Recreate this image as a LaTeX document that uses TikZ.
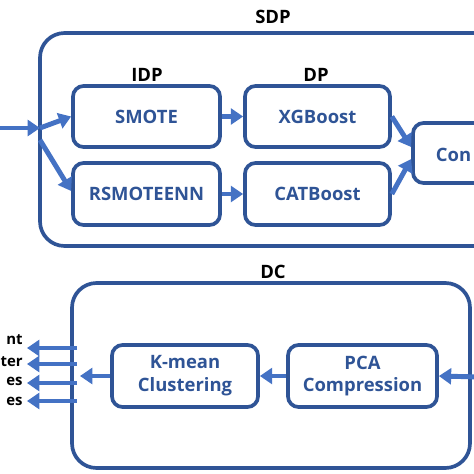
\documentclass[tikz,border=0pt]{standalone}
\usepackage{fontspec}
\setmainfont{Open Sans}
\usetikzlibrary{arrows.meta,calc}
\definecolor{boxc}{RGB}{47,84,150}
\definecolor{arrc}{RGB}{68,114,196}
\tikzset{
  pbox/.style={draw=boxc, line width=2.1pt, rounded corners=6pt, text=boxc,
    font=\fontsize{10.5}{13}\selectfont\bfseries, align=center, inner sep=0pt},
  bigbox/.style={draw=boxc, line width=2.1pt, rounded corners=14pt, inner sep=0pt},
  ttl/.style={font=\fontsize{10.5}{13}\selectfont\bfseries, text=black, inner sep=0pt},
  outl/.style={font=\fontsize{8.5}{12}\selectfont\bfseries, text=black, inner sep=0pt, anchor=east},
  arr/.style={draw=arrc, line width=2.8pt, -{Triangle[width=9pt,length=7pt]}},
}
\begin{document}
\begin{tikzpicture}[x=0.02cm,y=-0.02cm]
\useasboundingbox (0,0) rectangle (474,474);
\clip (0,0) rectangle (474,474);
% SDP
\node[bigbox, minimum width=480*0.02cm, minimum height=213*0.02cm] (sdp) at (280,139.5) {};
\node[ttl] (sdpt) at (273,17) {SDP};
\node[ttl] (idpt) at (147,75) {IDP};
\node[ttl] (dpt) at (316,75) {DP};
\node[pbox, minimum width=147*0.02cm, minimum height=61*0.02cm] (smote) at (146.5,116.5) {SMOTE};
\node[pbox, minimum width=147*0.02cm, minimum height=62*0.02cm] (rsm) at (146.5,194) {RSMOTEENN};
\node[pbox, minimum width=145*0.02cm, minimum height=61*0.02cm] (xgb) at (317.5,116.5) {XGBoost};
\node[pbox, minimum width=145*0.02cm, minimum height=62*0.02cm] (cat) at (317.5,194) {CATBoost};
\node[pbox, minimum width=107*0.02cm, minimum height=60*0.02cm] (con) at (466.5,153) {};
\node[pbox, draw=none, anchor=east] (conl) at (473,155) {Con};
\coordinate (inS) at (-5,128);
\coordinate (j1) at (40,128);
\coordinate (j2) at (40,140);
\draw[arr] (inS) -- (j1);
\draw[arr] (j1) -- (smote.west);
\draw[arr] (j2) -- ($(rsm.west)+(0,-3)$);
\draw[arr] (smote.east) -- (xgb.west);
\draw[arr] (rsm.east) -- (cat.west);
\draw[arr] (xgb.east) -- ($(con.west)+(0,-6)$);
\draw[arr] (cat.east) -- ($(con.west)+(0,6)$);
% DC
\node[bigbox, minimum width=398*0.02cm, minimum height=185*0.02cm] (dc) at (271,375.5) {};
\node[ttl] (dct) at (273,272) {DC};
\node[pbox, minimum width=146*0.02cm, minimum height=62*0.02cm] (km) at (185,376) {K-mean\\Clustering};
\node[pbox, minimum width=149*0.02cm, minimum height=62*0.02cm] (pca) at (362.5,376) {PCA\\Compression};
\coordinate (inD) at (480,377);
\coordinate (kmo) at (80,376);
\draw[arr] (inD) -- (pca.east);
\draw[arr] (pca.west) -- (km.east);
\draw[arr] (km.west) -- (kmo);
\coordinate (o1s) at (77,348); \coordinate (o1e) at (27,348);
\coordinate (o2s) at (77,364); \coordinate (o2e) at (27,364);
\coordinate (o3s) at (77,383); \coordinate (o3e) at (27,383);
\coordinate (o4s) at (77,401); \coordinate (o4e) at (27,401);
\draw[arr] (o1s) -- (o1e);
\draw[arr] (o2s) -- (o2e);
\draw[arr] (o3s) -- (o3e);
\draw[arr] (o4s) -- (o4e);
\node[outl] (l1) at (23,340) {nt};
\node[outl] (l2) at (23,362) {ter};
\node[outl] (l3) at (23,381) {es};
\node[outl] (l4) at (23,401) {es};
\end{tikzpicture}
\end{document}
